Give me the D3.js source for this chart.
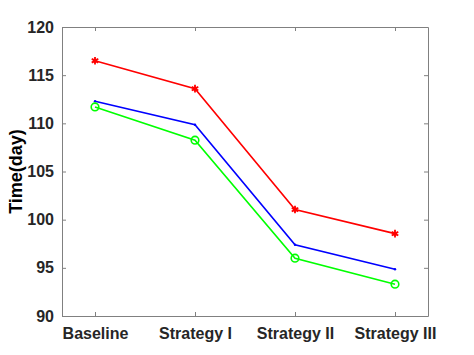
<!DOCTYPE html>
<html><head><meta charset="utf-8">
<script src="https://cdn.jsdelivr.net/npm/d3@7"></script>
<style>body{margin:0;background:#fff}svg{display:block}</style>
</head><body>
<script>
const categories = ["Baseline","Strategy I","Strategy II","Strategy III"];
const redSeries = [116.5, 113.6, 101.05, 98.55];
const blueSeries = [112.3, 109.85, 97.4, 94.85];
const greenSeries = [111.7, 108.25, 96.0, 93.3];
const yTicks = [90, 95, 100, 105, 110, 115, 120];

const W = 474, H = 355;
const m = {left: 62, right: 46, top: 27, bottom: 39};
const svg = d3.select("body").append("svg").attr("width", W).attr("height", H);
const x = d3.scaleLinear().domain([0.67, 4.33]).range([m.left, W - m.right]);
const y = d3.scaleLinear().domain([90, 120]).range([H - m.bottom, m.top]);
const axisColor = "#808080";
const font = "Arial, 'Liberation Sans', sans-serif";

const idx = categories.map((c, i) => i + 1);
// axes
const gB = svg.append("g").attr("transform", `translate(0,${H - m.bottom})`)
  .call(d3.axisBottom(x).tickValues(idx).tickFormat((d) => categories[d - 1]).tickSizeInner(-4).tickSizeOuter(0).tickPadding(12));
const gT = svg.append("g").attr("transform", `translate(0,${m.top})`)
  .call(d3.axisTop(x).tickValues(idx).tickFormat("").tickSizeInner(-4).tickSizeOuter(0));
const gL = svg.append("g").attr("transform", `translate(${m.left},0)`)
  .call(d3.axisLeft(y).tickValues(yTicks).tickSizeInner(-4).tickSizeOuter(0).tickPadding(8));
const gR = svg.append("g").attr("transform", `translate(${W - m.right},0)`)
  .call(d3.axisRight(y).tickValues(yTicks).tickFormat("").tickSizeInner(-4).tickSizeOuter(0));
[gB, gT, gL, gR].forEach(g => {
  g.selectAll("path.domain").attr("stroke", axisColor).attr("stroke-width", 1);
  g.selectAll(".tick line").attr("stroke", axisColor);
  g.selectAll("text").attr("font-family", font).attr("font-size", 16).attr("font-weight", "bold").attr("fill", "#262626");
});
gB.selectAll("text").attr("dy", "0.71em");

svg.append("text").attr("transform", `translate(22,${(m.top + H - m.bottom) / 2}) rotate(-90)`)
  .attr("text-anchor", "middle").attr("font-family", font).attr("font-size", 18).attr("font-weight", "bold")
  .attr("fill", "#000").text("Time(day)");

const line = d3.line().x((d, i) => x(i + 1)).y(d => y(d));
const series = [
  {data: blueSeries, color: "#0000ff", marker: "dot"},
  {data: greenSeries, color: "#00ff00", marker: "circle"},
  {data: redSeries, color: "#ff0000", marker: "star"}
];
series.forEach(s => {
  svg.append("path").datum(s.data).attr("d", line).attr("fill", "none")
    .attr("stroke", s.color).attr("stroke-width", 1.6);
  const g = svg.append("g");
  s.data.forEach((v, i) => {
    const cx = x(i + 1), cy = y(v);
    if (s.marker === "circle") {
      g.append("circle").attr("cx", cx).attr("cy", cy).attr("r", 3.8)
        .attr("fill", "none").attr("stroke", s.color).attr("stroke-width", 1.6);
    } else if (s.marker === "dot") {
      g.append("circle").attr("cx", cx).attr("cy", cy).attr("r", 1.2).attr("fill", s.color);
    } else {
      g.append("path").attr("transform", `translate(${cx},${cy})`)
        .attr("d", d3.symbol(d3.symbolAsterisk, 40)()).attr("stroke", s.color).attr("stroke-width", 1.8).attr("fill", "none");
      g.append("circle").attr("cx", cx).attr("cy", cy).attr("r", 2.2).attr("fill", s.color);
    }
  });
});
</script>
</body></html>
